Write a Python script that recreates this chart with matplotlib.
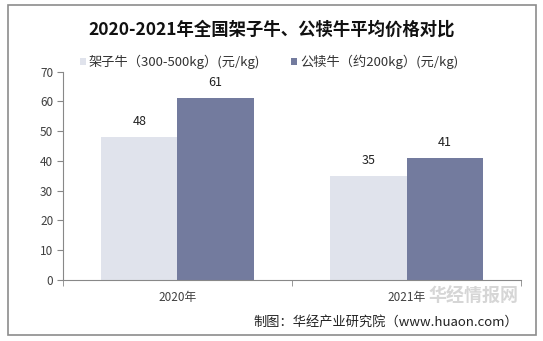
import matplotlib
matplotlib.use("Agg")
import matplotlib.pyplot as plt
from matplotlib.patches import Rectangle

plt.rcParams['font.family'] = ['Noto Sans CJK SC', 'DejaVu Sans']

# données
annees = ["2020年", "2021年"]
jiazi = [48, 35]      # 架子牛（300-500kg）(元/kg)
gongdu = [61, 41]     # 公犊牛（约200kg）(元/kg)
series_labels = ["架子牛（300-500kg）(元/kg)", "公犊牛（约200kg）(元/kg)"]
yticks = [0, 10, 20, 30, 40, 50, 60, 70]

c_light = "#e0e3ec"
c_dark = "#737b9e"

fig = plt.figure(figsize=(5.43, 3.41), dpi=100)
ax = fig.add_axes([0.116, 0.179, 0.8435, 0.611])

x = range(len(annees))
w = 0.332
b1 = ax.bar([i - w / 2 for i in x], jiazi, width=w, color=c_light, label=series_labels[0])
b2 = ax.bar([i + w / 2 for i in x], gongdu, width=w, color=c_dark, label=series_labels[1])

for bars in (b1, b2):
    for r in bars:
        ax.text(r.get_x() + r.get_width() / 2, r.get_height() + 3, f"{int(r.get_height())}",
                ha="center", va="bottom", fontsize=9, color="#222222")

ax.set_xlim(-0.5, 1.5)
ax.set_ylim(0, 70)
ax.set_yticks(yticks)
ax.set_xticks(list(x))
ax.set_xticklabels(annees)
ax.set_xticks([-0.5, 0.5, 1.5], minor=True)
ax.tick_params(axis="x", which="major", length=0, pad=8, labelsize=8.5, labelcolor="#404040")
ax.tick_params(axis="x", which="minor", length=4, color="#888888", direction="out")
ax.tick_params(axis="y", length=4, color="#888888", labelsize=8.5, labelcolor="#404040", pad=3)

for s in ["top", "right"]:
    ax.spines[s].set_visible(False)
for s in ["left", "bottom"]:
    ax.spines[s].set_color("#888888")
    ax.spines[s].set_linewidth(0.8)

# légende
fig.legend(handles=[b1, b2], labels=series_labels, loc="center left",
           bbox_to_anchor=(0.125, 0.818), ncol=2, frameon=False, fontsize=9.5,
           handlelength=0.45, handleheight=0.45, handletextpad=0.2, columnspacing=2.4,
           labelcolor="#333333")

# titre
fig.text(0.5, 0.912, "2020-2021年全国架子牛、公犊牛平均价格对比", ha="center", va="center",
         fontsize=12.5, fontweight="bold", color="#111111")

# filigrane
fig.text(0.79, 0.13, "华经情报网", ha="left", va="center", fontsize=13,
         fontweight="bold", color="#d6d6d6", zorder=0)

# source
fig.text(0.955, 0.055, "制图：华经产业研究院（www.huaon.com）", ha="right", va="center",
         fontsize=9.5, color="#222222")

# cadre extérieur
fig.patches.append(Rectangle((8 / 543, 1 - 335 / 341), 528 / 543, 330 / 341,
                             transform=fig.transFigure, fill=False,
                             edgecolor="#8c8c8c", linewidth=1.2))

fig.savefig("out.png", dpi=100)
